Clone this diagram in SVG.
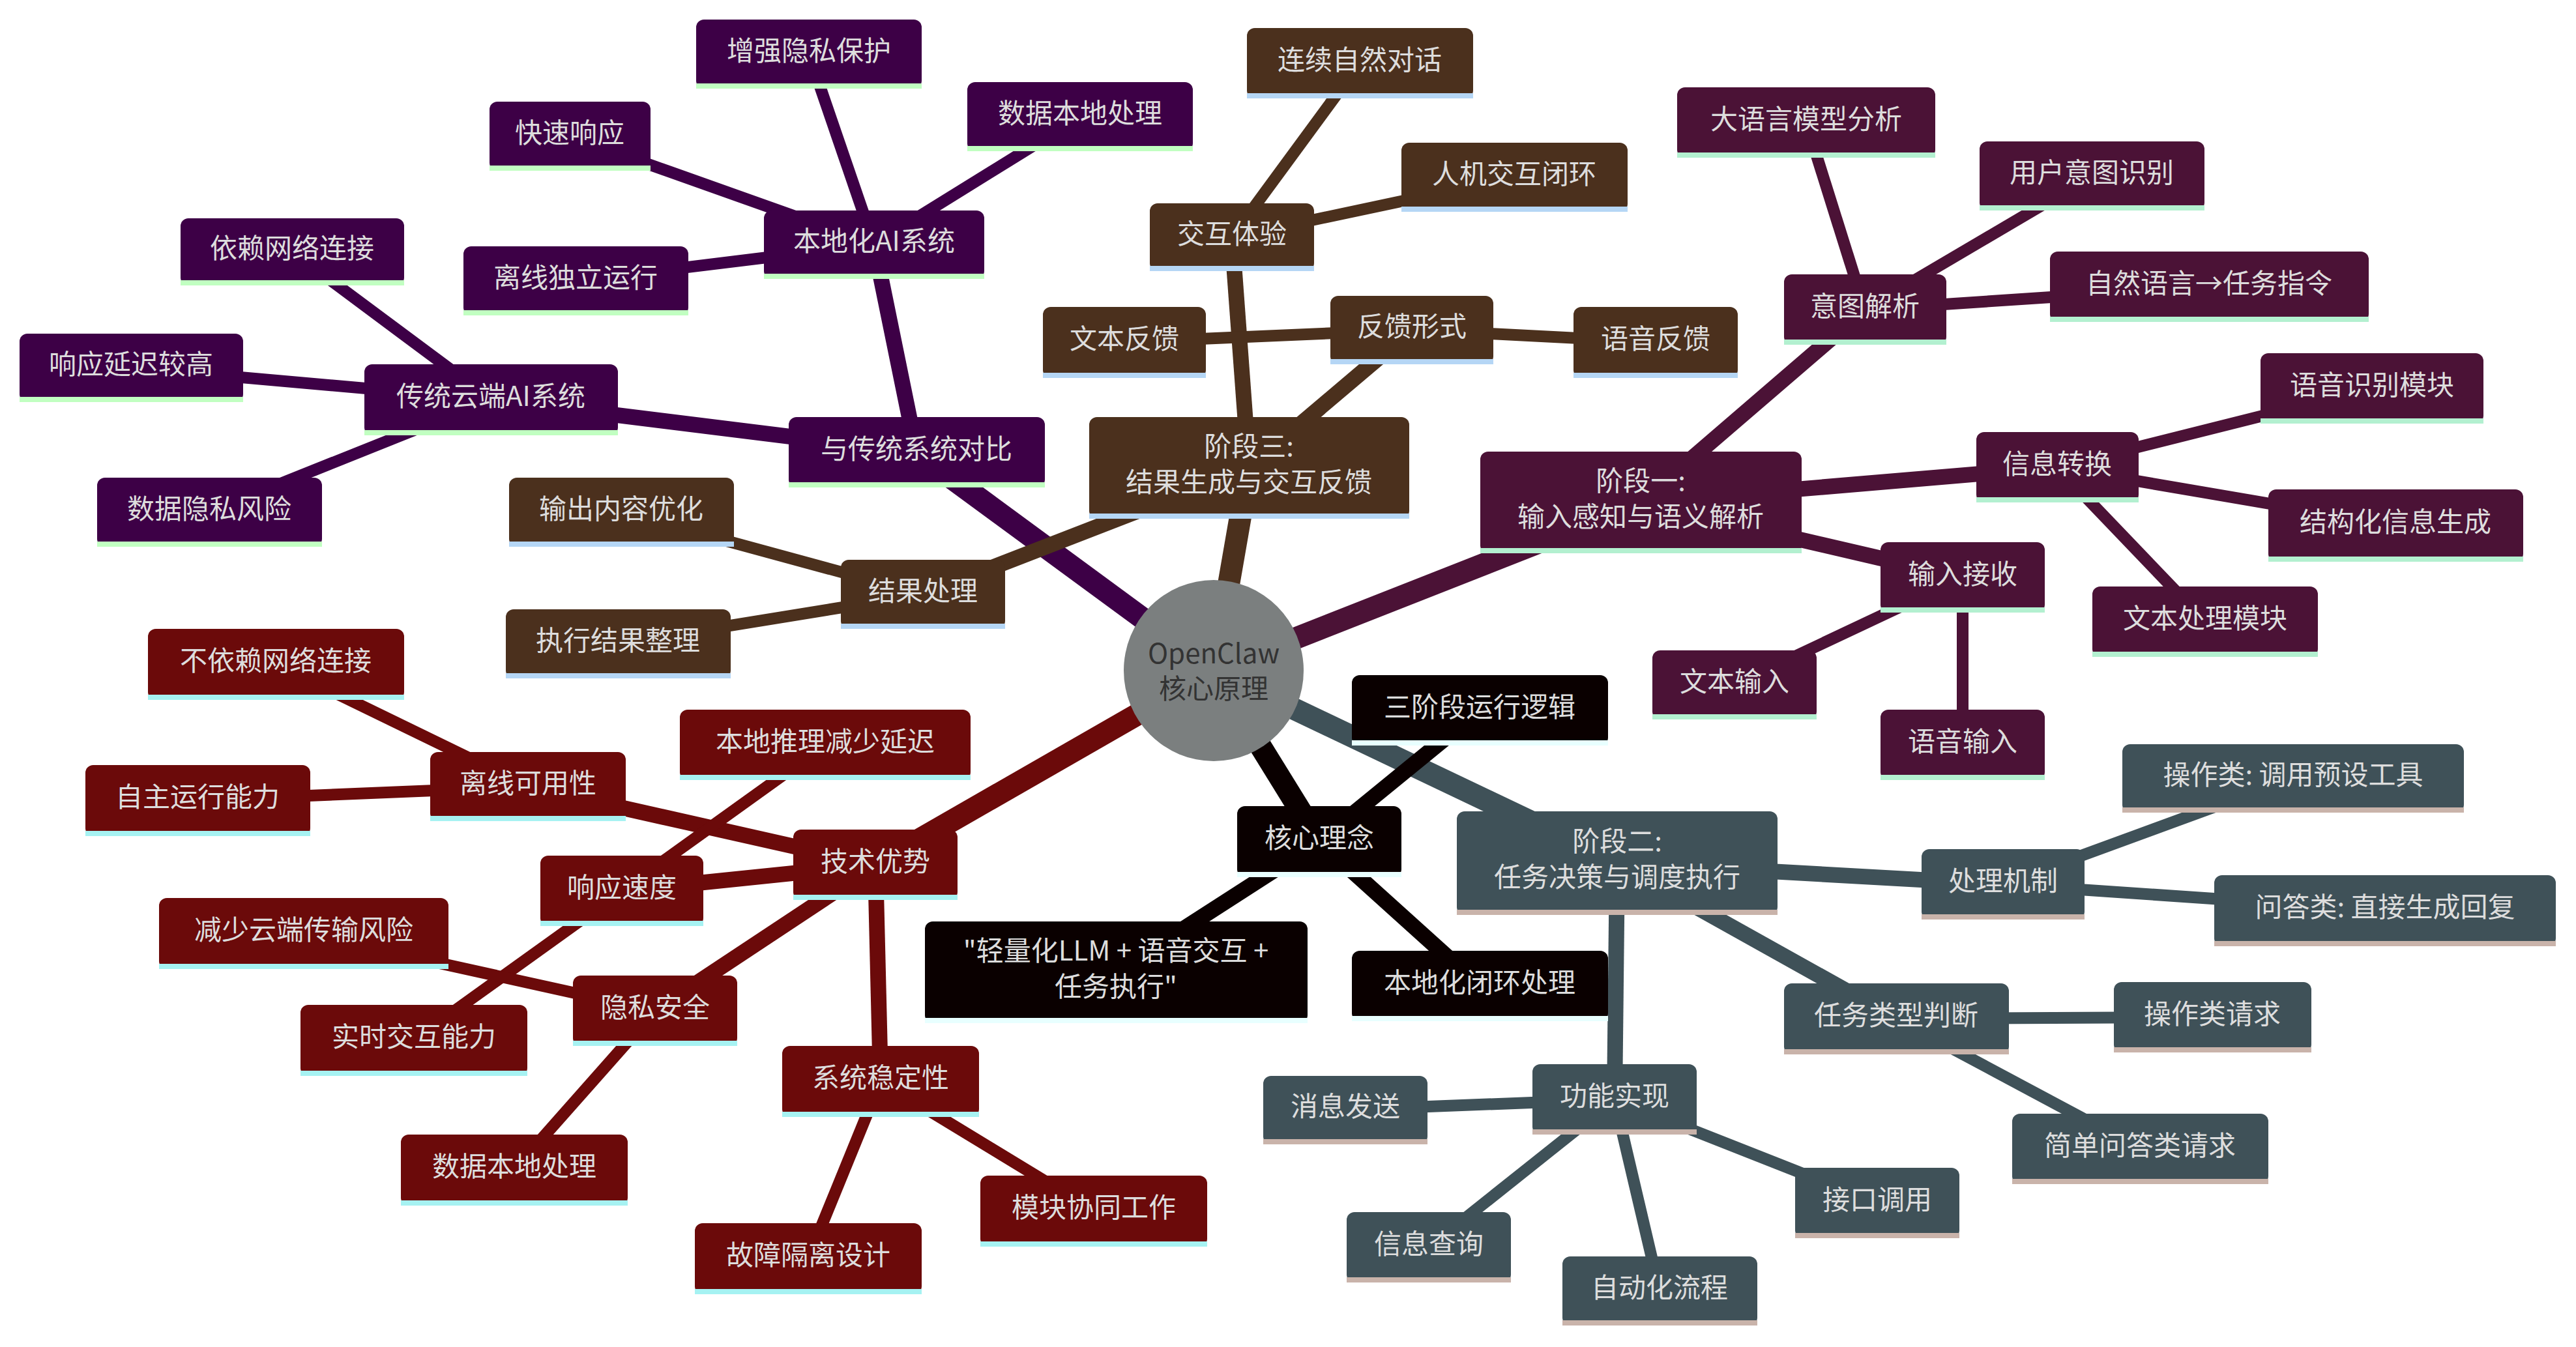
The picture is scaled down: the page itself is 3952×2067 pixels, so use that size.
<svg xmlns="http://www.w3.org/2000/svg" width="3952" height="2067" viewBox="0 0 3952 2067">
<style>
text{font-family:"Noto Sans CJK SC","DejaVu Sans",sans-serif;font-size:42px;fill:#dddddd;text-anchor:middle}
.e{fill:none;stroke-linecap:butt}
.w1{stroke-width:34}.w2{stroke-width:24}.w3{stroke-width:18}
.pu{fill:#3d0046}.pus{fill:#c1ffc1}.epu{stroke:#3d0046}
.br{fill:#4b301d}.brs{fill:#b5d6f5}.ebr{stroke:#4b301d}
.pl{fill:#4b1236}.pls{fill:#b3f0d0}.epl{stroke:#4b1236}
.sl{fill:#3f5158}.sls{fill:#c9b3aa}.esl{stroke:#3f5158}
.bk{fill:#0a0000}.bks{fill:#e8ffff}.ebk{stroke:#0a0000}
.rd{fill:#6b0a0a}.rds{fill:#a6f2f2}.erd{stroke:#6b0a0a}
</style>
<rect width="3952" height="2067" fill="#ffffff"/>
<g id="connectors">
<g class="e epu">
<line class="w1" x1="1862" y1="1029" x2="1406" y2="694"/>
<line class="w2" x1="1406" y1="694" x2="1341" y2="375"/>
<line class="w2" x1="1406" y1="694" x2="753" y2="613"/>
<line class="w3" x1="1341" y1="375" x2="1241" y2="83"/>
<line class="w3" x1="1341" y1="375" x2="1657" y2="179"/>
<line class="w3" x1="1341" y1="375" x2="874" y2="209"/>
<line class="w3" x1="1341" y1="375" x2="883" y2="431"/>
<line class="w3" x1="753" y1="613" x2="448" y2="386"/>
<line class="w3" x1="753" y1="613" x2="201" y2="564"/>
<line class="w3" x1="753" y1="613" x2="321" y2="786"/>
</g>
<g class="e ebr">
<line class="w1" x1="1862" y1="1029" x2="1916" y2="718"/>
<line class="w2" x1="1916" y1="718" x2="1890" y2="364"/>
<line class="w2" x1="1916" y1="718" x2="2166" y2="506"/>
<line class="w2" x1="1916" y1="718" x2="1416" y2="912"/>
<line class="w3" x1="1890" y1="364" x2="2086" y2="97"/>
<line class="w3" x1="1890" y1="364" x2="2323" y2="272"/>
<line class="w3" x1="2166" y1="506" x2="1725" y2="525"/>
<line class="w3" x1="2166" y1="506" x2="2540" y2="525"/>
<line class="w3" x1="1416" y1="912" x2="953" y2="786"/>
<line class="w3" x1="1416" y1="912" x2="948" y2="988"/>
</g>
<g class="e epl">
<line class="w1" x1="1862" y1="1029" x2="2517" y2="771"/>
<line class="w2" x1="2517" y1="771" x2="2861" y2="475"/>
<line class="w2" x1="2517" y1="771" x2="3156" y2="717"/>
<line class="w2" x1="2517" y1="771" x2="3011" y2="886"/>
<line class="w3" x1="2861" y1="475" x2="2771" y2="188"/>
<line class="w3" x1="2861" y1="475" x2="3209" y2="270"/>
<line class="w3" x1="2861" y1="475" x2="3389" y2="440"/>
<line class="w3" x1="3156" y1="717" x2="3639" y2="596"/>
<line class="w3" x1="3156" y1="717" x2="3675" y2="806"/>
<line class="w3" x1="3156" y1="717" x2="3383" y2="954"/>
<line class="w3" x1="3011" y1="886" x2="2661" y2="1051"/>
<line class="w3" x1="3011" y1="886" x2="3011" y2="1143"/>
</g>
<g class="e esl">
<line class="w1" x1="1862" y1="1029" x2="2481" y2="1324"/>
<line class="w2" x1="2481" y1="1324" x2="3073" y2="1357"/>
<line class="w2" x1="2481" y1="1324" x2="2909" y2="1563"/>
<line class="w2" x1="2481" y1="1324" x2="2477" y2="1687"/>
<line class="w3" x1="3073" y1="1357" x2="3518" y2="1194"/>
<line class="w3" x1="3073" y1="1357" x2="3659" y2="1397"/>
<line class="w3" x1="2909" y1="1563" x2="3394" y2="1561"/>
<line class="w3" x1="2909" y1="1563" x2="3283" y2="1763"/>
<line class="w3" x1="2477" y1="1687" x2="2064" y2="1703"/>
<line class="w3" x1="2477" y1="1687" x2="2192" y2="1914"/>
<line class="w3" x1="2477" y1="1687" x2="2546" y2="1981"/>
<line class="w3" x1="2477" y1="1687" x2="2880" y2="1846"/>
</g>
<g class="e ebk">
<line class="w1" x1="1862" y1="1029" x2="2024" y2="1291"/>
<line class="w2" x1="2024" y1="1291" x2="2270" y2="1090"/>
<line class="w2" x1="2024" y1="1291" x2="1712" y2="1492"/>
<line class="w2" x1="2024" y1="1291" x2="2270" y2="1513"/>
</g>
<g class="e erd">
<line class="w1" x1="1862" y1="1029" x2="1343" y2="1327"/>
<line class="w2" x1="1343" y1="1327" x2="810" y2="1207"/>
<line class="w2" x1="1343" y1="1327" x2="954" y2="1367"/>
<line class="w2" x1="1343" y1="1327" x2="1005" y2="1551"/>
<line class="w2" x1="1343" y1="1327" x2="1351" y2="1659"/>
<line class="w3" x1="810" y1="1207" x2="423" y2="1019"/>
<line class="w3" x1="810" y1="1207" x2="303" y2="1228"/>
<line class="w3" x1="954" y1="1367" x2="1266" y2="1143"/>
<line class="w3" x1="954" y1="1367" x2="635" y2="1596"/>
<line class="w3" x1="1005" y1="1551" x2="466" y2="1432"/>
<line class="w3" x1="1005" y1="1551" x2="789" y2="1795"/>
<line class="w3" x1="1351" y1="1659" x2="1678" y2="1858"/>
<line class="w3" x1="1351" y1="1659" x2="1240" y2="1931"/>
</g>
</g>
<g id="root"><ellipse cx="1862" cy="1029" rx="138" ry="139" fill="#7b7f7f"/><text x="1862" y="1018" style="fill:#333">OpenClaw</text><text x="1862" y="1072" style="fill:#333">核心原理</text></g>
<!-- purple -->
<g id="p0"><rect class="pu" x="1210" y="640" width="393" height="108" rx="12"/><rect class="pus" x="1210" y="740" width="393" height="8"/><text x="1406" y="704">与传统系统对比</text></g>
<g id="p1"><rect class="pu" x="1172" y="323" width="338" height="105" rx="12"/><rect class="pus" x="1172" y="420" width="338" height="8"/><text x="1341" y="385">本地化AI系统</text></g>
<g id="p1a"><rect class="pu" x="1068" y="30" width="346" height="106" rx="12"/><rect class="pus" x="1068" y="128" width="346" height="8"/><text x="1241" y="93">增强隐私保护</text></g>
<g id="p1b"><rect class="pu" x="1484" y="126" width="346" height="106" rx="12"/><rect class="pus" x="1484" y="224" width="346" height="8"/><text x="1657" y="189">数据本地处理</text></g>
<g id="p1c"><rect class="pu" x="751" y="156" width="247" height="106" rx="12"/><rect class="pus" x="751" y="254" width="247" height="8"/><text x="874" y="219">快速响应</text></g>
<g id="p1d"><rect class="pu" x="711" y="378" width="345" height="106" rx="12"/><rect class="pus" x="711" y="476" width="345" height="8"/><text x="883" y="441">离线独立运行</text></g>
<g id="p2"><rect class="pu" x="559" y="559" width="389" height="109" rx="12"/><rect class="pus" x="559" y="660" width="389" height="8"/><text x="753" y="623">传统云端AI系统</text></g>
<g id="p2a"><rect class="pu" x="277" y="335" width="343" height="103" rx="12"/><rect class="pus" x="277" y="430" width="343" height="8"/><text x="448" y="396">依赖网络连接</text></g>
<g id="p2b"><rect class="pu" x="30" y="512" width="343" height="105" rx="12"/><rect class="pus" x="30" y="609" width="343" height="8"/><text x="201" y="574">响应延迟较高</text></g>
<g id="p2c"><rect class="pu" x="149" y="733" width="345" height="106" rx="12"/><rect class="pus" x="149" y="831" width="345" height="8"/><text x="321" y="796">数据隐私风险</text></g>
<!-- brown -->
<g id="b0"><rect class="br" x="1671" y="640" width="491" height="156" rx="12"/><rect class="brs" x="1671" y="788" width="491" height="8"/><text x="1916" y="700">阶段三:</text><text x="1916" y="755">结果生成与交互反馈</text></g>
<g id="b1"><rect class="br" x="1764" y="312" width="252" height="104" rx="12"/><rect class="brs" x="1764" y="408" width="252" height="8"/><text x="1890" y="374">交互体验</text></g>
<g id="b1a"><rect class="br" x="1913" y="43" width="347" height="108" rx="12"/><rect class="brs" x="1913" y="143" width="347" height="8"/><text x="2086" y="107">连续自然对话</text></g>
<g id="b1b"><rect class="br" x="2150" y="219" width="347" height="106" rx="12"/><rect class="brs" x="2150" y="317" width="347" height="8"/><text x="2323" y="282">人机交互闭环</text></g>
<g id="b2"><rect class="br" x="2041" y="454" width="250" height="105" rx="12"/><rect class="brs" x="2041" y="551" width="250" height="8"/><text x="2166" y="516">反馈形式</text></g>
<g id="b2a"><rect class="br" x="1600" y="471" width="250" height="109" rx="12"/><rect class="brs" x="1600" y="572" width="250" height="8"/><text x="1725" y="535">文本反馈</text></g>
<g id="b2b"><rect class="br" x="2414" y="471" width="252" height="109" rx="12"/><rect class="brs" x="2414" y="572" width="252" height="8"/><text x="2540" y="535">语音反馈</text></g>
<g id="b3"><rect class="br" x="1290" y="859" width="252" height="106" rx="12"/><rect class="brs" x="1290" y="957" width="252" height="8"/><text x="1416" y="922">结果处理</text></g>
<g id="b3a"><rect class="br" x="781" y="733" width="345" height="106" rx="12"/><rect class="brs" x="781" y="831" width="345" height="8"/><text x="953" y="796">输出内容优化</text></g>
<g id="b3b"><rect class="br" x="776" y="935" width="345" height="106" rx="12"/><rect class="brs" x="776" y="1033" width="345" height="8"/><text x="948" y="998">执行结果整理</text></g>
<!-- plum -->
<g id="l0"><rect class="pl" x="2271" y="693" width="493" height="156" rx="12"/><rect class="pls" x="2271" y="841" width="493" height="8"/><text x="2517" y="753">阶段一:</text><text x="2517" y="808">输入感知与语义解析</text></g>
<g id="l1"><rect class="pl" x="2737" y="421" width="249" height="108" rx="12"/><rect class="pls" x="2737" y="521" width="249" height="8"/><text x="2861" y="485">意图解析</text></g>
<g id="l1a"><rect class="pl" x="2573" y="134" width="396" height="108" rx="12"/><rect class="pls" x="2573" y="234" width="396" height="8"/><text x="2771" y="198">大语言模型分析</text></g>
<g id="l1b"><rect class="pl" x="3037" y="217" width="345" height="106" rx="12"/><rect class="pls" x="3037" y="315" width="345" height="8"/><text x="3209" y="280">用户意图识别</text></g>
<g id="l1c"><rect class="pl" x="3145" y="386" width="489" height="108" rx="12"/><rect class="pls" x="3145" y="486" width="489" height="8"/><text x="3389" y="450">自然语言→任务指令</text></g>
<g id="l2"><rect class="pl" x="3032" y="663" width="249" height="108" rx="12"/><rect class="pls" x="3032" y="763" width="249" height="8"/><text x="3156" y="727">信息转换</text></g>
<g id="l2a"><rect class="pl" x="3468" y="542" width="342" height="108" rx="12"/><rect class="pls" x="3468" y="642" width="342" height="8"/><text x="3639" y="606">语音识别模块</text></g>
<g id="l2b"><rect class="pl" x="3480" y="751" width="391" height="111" rx="12"/><rect class="pls" x="3480" y="854" width="391" height="8"/><text x="3675" y="816">结构化信息生成</text></g>
<g id="l2c"><rect class="pl" x="3210" y="900" width="346" height="108" rx="12"/><rect class="pls" x="3210" y="1000" width="346" height="8"/><text x="3383" y="964">文本处理模块</text></g>
<g id="l3"><rect class="pl" x="2885" y="832" width="252" height="108" rx="12"/><rect class="pls" x="2885" y="932" width="252" height="8"/><text x="3011" y="896">输入接收</text></g>
<g id="l3a"><rect class="pl" x="2535" y="998" width="252" height="106" rx="12"/><rect class="pls" x="2535" y="1096" width="252" height="8"/><text x="2661" y="1061">文本输入</text></g>
<g id="l3b"><rect class="pl" x="2885" y="1089" width="252" height="108" rx="12"/><rect class="pls" x="2885" y="1189" width="252" height="8"/><text x="3011" y="1153">语音输入</text></g>
<!-- slate -->
<g id="s0"><rect class="sl" x="2235" y="1245" width="492" height="159" rx="12"/><rect class="sls" x="2235" y="1396" width="492" height="8"/><text x="2481" y="1306">阶段二:</text><text x="2481" y="1361">任务决策与调度执行</text></g>
<g id="s1"><rect class="sl" x="2948" y="1303" width="250" height="108" rx="12"/><rect class="sls" x="2948" y="1403" width="250" height="8"/><text x="3073" y="1367">处理机制</text></g>
<g id="s1a"><rect class="sl" x="3256" y="1142" width="524" height="105" rx="12"/><rect class="sls" x="3256" y="1239" width="524" height="8"/><text x="3518" y="1204">操作类: 调用预设工具</text></g>
<g id="s1b"><rect class="sl" x="3397" y="1343" width="524" height="109" rx="12"/><rect class="sls" x="3397" y="1444" width="524" height="8"/><text x="3659" y="1407">问答类: 直接生成回复</text></g>
<g id="s2"><rect class="sl" x="2737" y="1509" width="345" height="109" rx="12"/><rect class="sls" x="2737" y="1610" width="345" height="8"/><text x="2909" y="1573">任务类型判断</text></g>
<g id="s2a"><rect class="sl" x="3243" y="1507" width="303" height="108" rx="12"/><rect class="sls" x="3243" y="1607" width="303" height="8"/><text x="3394" y="1571">操作类请求</text></g>
<g id="s2b"><rect class="sl" x="3087" y="1709" width="393" height="108" rx="12"/><rect class="sls" x="3087" y="1809" width="393" height="8"/><text x="3283" y="1773">简单问答类请求</text></g>
<g id="s3"><rect class="sl" x="2351" y="1633" width="252" height="108" rx="12"/><rect class="sls" x="2351" y="1733" width="252" height="8"/><text x="2477" y="1697">功能实现</text></g>
<g id="s3a"><rect class="sl" x="1938" y="1651" width="252" height="105" rx="12"/><rect class="sls" x="1938" y="1748" width="252" height="8"/><text x="2064" y="1713">消息发送</text></g>
<g id="s3b"><rect class="sl" x="2066" y="1860" width="252" height="108" rx="12"/><rect class="sls" x="2066" y="1960" width="252" height="8"/><text x="2192" y="1924">信息查询</text></g>
<g id="s3c"><rect class="sl" x="2397" y="1928" width="299" height="106" rx="12"/><rect class="sls" x="2397" y="2026" width="299" height="8"/><text x="2546" y="1991">自动化流程</text></g>
<g id="s3d"><rect class="sl" x="2754" y="1792" width="252" height="108" rx="12"/><rect class="sls" x="2754" y="1892" width="252" height="8"/><text x="2880" y="1856">接口调用</text></g>
<!-- black -->
<g id="k0"><rect class="bk" x="1898" y="1237" width="252" height="109" rx="12"/><rect class="bks" x="1898" y="1338" width="252" height="8"/><text x="2024" y="1301">核心理念</text></g>
<g id="k1"><rect class="bk" x="2074" y="1036" width="393" height="108" rx="12"/><rect class="bks" x="2074" y="1136" width="393" height="8"/><text x="2270" y="1100">三阶段运行逻辑</text></g>
<g id="k2"><rect class="bk" x="1419" y="1414" width="587" height="156" rx="12"/><rect class="bks" x="1419" y="1562" width="587" height="8"/><text x="1712" y="1474">"轻量化LLM + 语音交互 +</text><text x="1712" y="1529">任务执行"</text></g>
<g id="k3"><rect class="bk" x="2074" y="1459" width="393" height="108" rx="12"/><rect class="bks" x="2074" y="1559" width="393" height="8"/><text x="2270" y="1523">本地化闭环处理</text></g>
<!-- red -->
<g id="r0"><rect class="rd" x="1217" y="1273" width="252" height="108" rx="12"/><rect class="rds" x="1217" y="1373" width="252" height="8"/><text x="1343" y="1337">技术优势</text></g>
<g id="r1"><rect class="rd" x="660" y="1154" width="300" height="106" rx="12"/><rect class="rds" x="660" y="1252" width="300" height="8"/><text x="810" y="1217">离线可用性</text></g>
<g id="r1a"><rect class="rd" x="227" y="965" width="393" height="109" rx="12"/><rect class="rds" x="227" y="1066" width="393" height="8"/><text x="423" y="1029">不依赖网络连接</text></g>
<g id="r1b"><rect class="rd" x="131" y="1174" width="345" height="109" rx="12"/><rect class="rds" x="131" y="1275" width="345" height="8"/><text x="303" y="1238">自主运行能力</text></g>
<g id="r2"><rect class="rd" x="829" y="1313" width="250" height="108" rx="12"/><rect class="rds" x="829" y="1413" width="250" height="8"/><text x="954" y="1377">响应速度</text></g>
<g id="r2a"><rect class="rd" x="1043" y="1089" width="446" height="108" rx="12"/><rect class="rds" x="1043" y="1189" width="446" height="8"/><text x="1266" y="1153">本地推理减少延迟</text></g>
<g id="r2b"><rect class="rd" x="461" y="1542" width="348" height="109" rx="12"/><rect class="rds" x="461" y="1643" width="348" height="8"/><text x="635" y="1606">实时交互能力</text></g>
<g id="r3"><rect class="rd" x="879" y="1497" width="252" height="108" rx="12"/><rect class="rds" x="879" y="1597" width="252" height="8"/><text x="1005" y="1561">隐私安全</text></g>
<g id="r3a"><rect class="rd" x="244" y="1378" width="444" height="109" rx="12"/><rect class="rds" x="244" y="1479" width="444" height="8"/><text x="466" y="1442">减少云端传输风险</text></g>
<g id="r3b"><rect class="rd" x="615" y="1741" width="348" height="109" rx="12"/><rect class="rds" x="615" y="1842" width="348" height="8"/><text x="789" y="1805">数据本地处理</text></g>
<g id="r4"><rect class="rd" x="1200" y="1605" width="302" height="109" rx="12"/><rect class="rds" x="1200" y="1706" width="302" height="8"/><text x="1351" y="1669">系统稳定性</text></g>
<g id="r4a"><rect class="rd" x="1504" y="1804" width="348" height="109" rx="12"/><rect class="rds" x="1504" y="1905" width="348" height="8"/><text x="1678" y="1868">模块协同工作</text></g>
<g id="r4b"><rect class="rd" x="1066" y="1877" width="348" height="109" rx="12"/><rect class="rds" x="1066" y="1978" width="348" height="8"/><text x="1240" y="1941">故障隔离设计</text></g>
</svg>
